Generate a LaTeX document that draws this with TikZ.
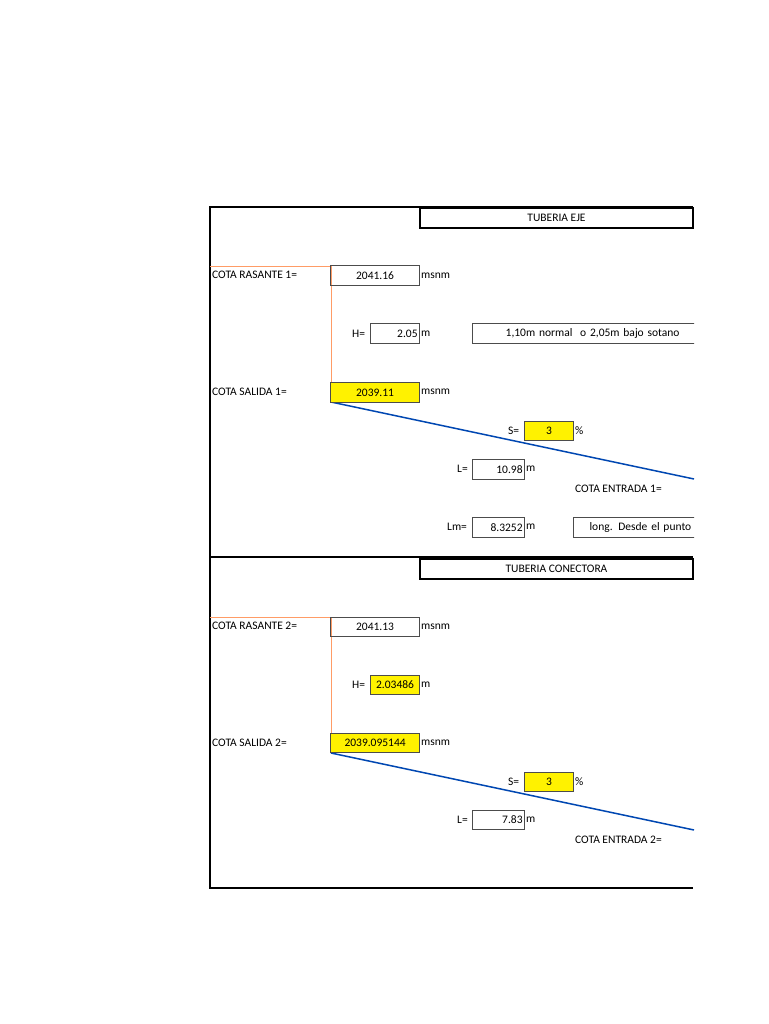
\documentclass[tikz,border=0pt]{standalone}
\usepackage{fontspec}
\setmainfont{Carlito}
\begin{document}
\begin{tikzpicture}[x=1pt,y=-1pt,
  lbl/.style={anchor=west,inner sep=0pt,font=\fontsize{11.5}{12}\selectfont},
  vbox/.style={draw=black!70,line width=1.2pt,inner sep=0pt,font=\fontsize{11.5}{12}\selectfont},
  ybox/.style={vbox,fill=yellow},
  frame/.style={line width=2pt,black},
  orng/.style={draw=orange!70!red!60,line width=0.8pt},
  pipe/.style={draw=blue!60!cyan!70!black,line width=1.5pt}]
\useasboundingbox (0,0) rectangle (768,1024);
\fill[white] (0,0) rectangle (768,1024);
\begin{scope}
\clip (0,0) rectangle (694,1024);
\draw[frame] (210,207) coordinate(tl) -- (210,888) coordinate(bl);
\draw[frame] (209,207) -- (693,207);
\draw[frame] (209,557) -- (693,557);
\draw[frame] (209,888) -- (693,888);
\foreach \dy/\title/\n in {0/TUBERIA EJE/1,351/TUBERIA CONECTORA/2}{
  \begin{scope}[yshift=-\dy]
  \node[draw,line width=2pt,minimum width=273pt,minimum height=20pt,anchor=north west,inner sep=0pt,font=\fontsize{11.5}{12}\selectfont] (t\n) at (419,207) {\title};
  \draw[orng] (210,266) -- (331,266) -- (331,392);
  \node[lbl] (cr\n) at (212,275) {COTA RASANTE \n=};
  \node[lbl] (cs\n) at (212,392) {COTA SALIDA \n=};
  \node[lbl] (ms\n) at (421,392) {msnm};
  \node[lbl] (mr\n) at (421,276) {msnm};
  \node[lbl] (hm\n) at (421,334) {m};
  \node[lbl] (sp\n) at (575,431) {\%};
  \node[lbl] (sl\n) at (508,431) {S=};
  \node[lbl] (ll\n) at (457,469) {L=};
  \node[lbl] (lm\n) at (526,469) {m};
  \node[lbl] (ce\n) at (575,489) {COTA ENTRADA \n=};
  \coordinate (p0\n) at (331,402);
  \coordinate (p1\n) at (694,479);
  \draw[pipe] (p0\n) -- (p1\n);
  \end{scope}}
% section 1 boxes
\node[vbox,minimum width=89pt,minimum height=20pt,anchor=north west] (r1) at (330,265) {2041.16};
\node[lbl] (h1) at (352,334) {H=};
\node[vbox,minimum width=49pt,minimum height=20pt,anchor=north west,text width=45pt,align=right] (hv1) at (370,323) {2.05};
\node[vbox,minimum width=240pt,minimum height=20pt,anchor=north west,text width=236pt,align=center] (n1) at (472,323) {1,10m normal\ \ o 2,05m bajo sotano};
\node[ybox,minimum width=89pt,minimum height=20pt,anchor=north west] (s1) at (330,382) {2039.11};
\node[ybox,minimum width=49pt,minimum height=19pt,anchor=north west] (sv1) at (524,421) {3};
\node[vbox,minimum width=52pt,minimum height=20pt,anchor=north west,text width=48pt,align=right] (lv1) at (472,459) {10.98};
\node[lbl] (lml) at (447,527) {Lm=};
\node[vbox,minimum width=52pt,minimum height=20pt,anchor=north west,text width=48pt,align=right] (lmv) at (472,517) {8.3252};
\node[lbl] (lmm) at (526,527) {m};
\node[vbox,minimum width=200pt,minimum height=20pt,anchor=north west,text width=196pt,align=left] (n2) at (573,517) {\hspace{14pt}long. Desde el punto};
% section 2 boxes
\node[vbox,minimum width=89pt,minimum height=19pt,anchor=north west] (r2) at (330,617) {2041.13};
\node[lbl] (h2) at (352,685) {H=};
\node[ybox,minimum width=49pt,minimum height=19pt,anchor=north west] (hv2) at (370,675) {2.03486};
\node[ybox,minimum width=89pt,minimum height=19pt,anchor=north west] (s2) at (330,733) {2039.095144};
\node[ybox,minimum width=49pt,minimum height=19pt,anchor=north west] (sv2) at (524,772) {3};
\node[vbox,minimum width=52pt,minimum height=19pt,anchor=north west,text width=48pt,align=right] (lv2) at (472,810) {7.83};
\end{scope}
\end{tikzpicture}
\end{document}
